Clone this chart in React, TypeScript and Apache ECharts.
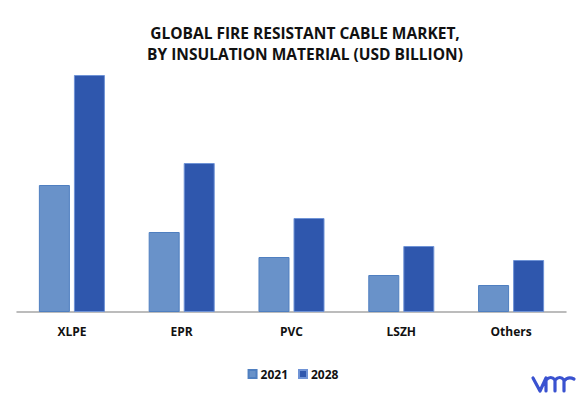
import React, { useEffect, useRef } from "react";
import * as echarts from "echarts";

const categories = ["XLPE", "EPR", "PVC", "LSZH", "Others"];
const series2021 = [5.08, 3.2, 2.2, 1.48, 1.08];
const series2028 = [9.48, 5.96, 3.76, 2.64, 2.08];
const seriesNames = ["2021", "2028"];
const titleLines = ["GLOBAL FIRE RESISTANT CABLE MARKET,", "BY INSULATION MATERIAL (USD BILLION)"];

const LOGO_D =
  "M0 2 L7 15 L13 2 M13 15 L13 4 Q18 -1 22 4 L22 15 M22 4 Q27 -1 31 4 L31 15 M31 5 Q35 0 41 3";

export default function App() {
  const ref = useRef<HTMLDivElement>(null);
  useEffect(() => {
    if (!ref.current) return;
    try {
      echarts.graphic.registerShape("vmrlogo", echarts.graphic.extendPath(LOGO_D, {}) as any);
    } catch (e) {}
    const chart = echarts.init(ref.current, null, { renderer: "svg" });
    const font = "'Open Sans', sans-serif";
    chart.setOption({
      animation: false,
      backgroundColor: "#ffffff",
      title: {
        text: titleLines.join("\n"),
        left: 300,
        top: 17,
        textAlign: "center",
        textStyle: {
          fontFamily: font,
          fontSize: 15.5,
          fontWeight: "bold",
          color: "#111111",
          lineHeight: 21,
        },
      },
      legend: {
        data: seriesNames,
        bottom: 11,
        left: "center",
        itemWidth: 8,
        itemHeight: 8,
        itemGap: 10,
        icon: "rect",
        textStyle: { fontFamily: font, fontSize: 12, fontWeight: "bold", color: "#111111", padding: [0, 0, 0, -1] },
      },
      grid: { left: 17, right: 20, top: 62, bottom: 84, containLabel: false },
      xAxis: {
        type: "category",
        data: categories,
        axisLine: { lineStyle: { color: "#A6A6A6", width: 1.5 } },
        axisTick: { show: false },
        axisLabel: {
          fontFamily: font,
          fontSize: 12,
          fontWeight: "bold",
          color: "#111111",
          margin: 13,
        },
      },
      yAxis: {
        type: "value",
        min: 0,
        max: 10,
        show: false,
        splitLine: { show: false },
      },
      series: [
        {
          name: seriesNames[0],
          type: "bar",
          data: series2021,
          barWidth: 31,
          barGap: "13%",
          itemStyle: { color: "#6992C9", borderColor: "#4F7FC0", borderWidth: 1 },
        },
        {
          name: seriesNames[1],
          type: "bar",
          data: series2028,
          barWidth: 31,
          itemStyle: { color: "#2F57AD", borderColor: "#6F93D6", borderWidth: 1 },
        },
      ],
      graphic: [
        {
          type: "vmrlogo",
          x: 533,
          y: 376,
          scaleX: 1,
          scaleY: 1,
          style: { fill: null, stroke: "#3A52D0", lineWidth: 3.2, lineCap: "round", lineJoin: "round" },
        },
      ],
    });
    return () => chart.dispose();
  }, []);
  return <div ref={ref} style={{ width: 586, height: 396, position: "absolute", left: 0, top: 0 }} />;
}
